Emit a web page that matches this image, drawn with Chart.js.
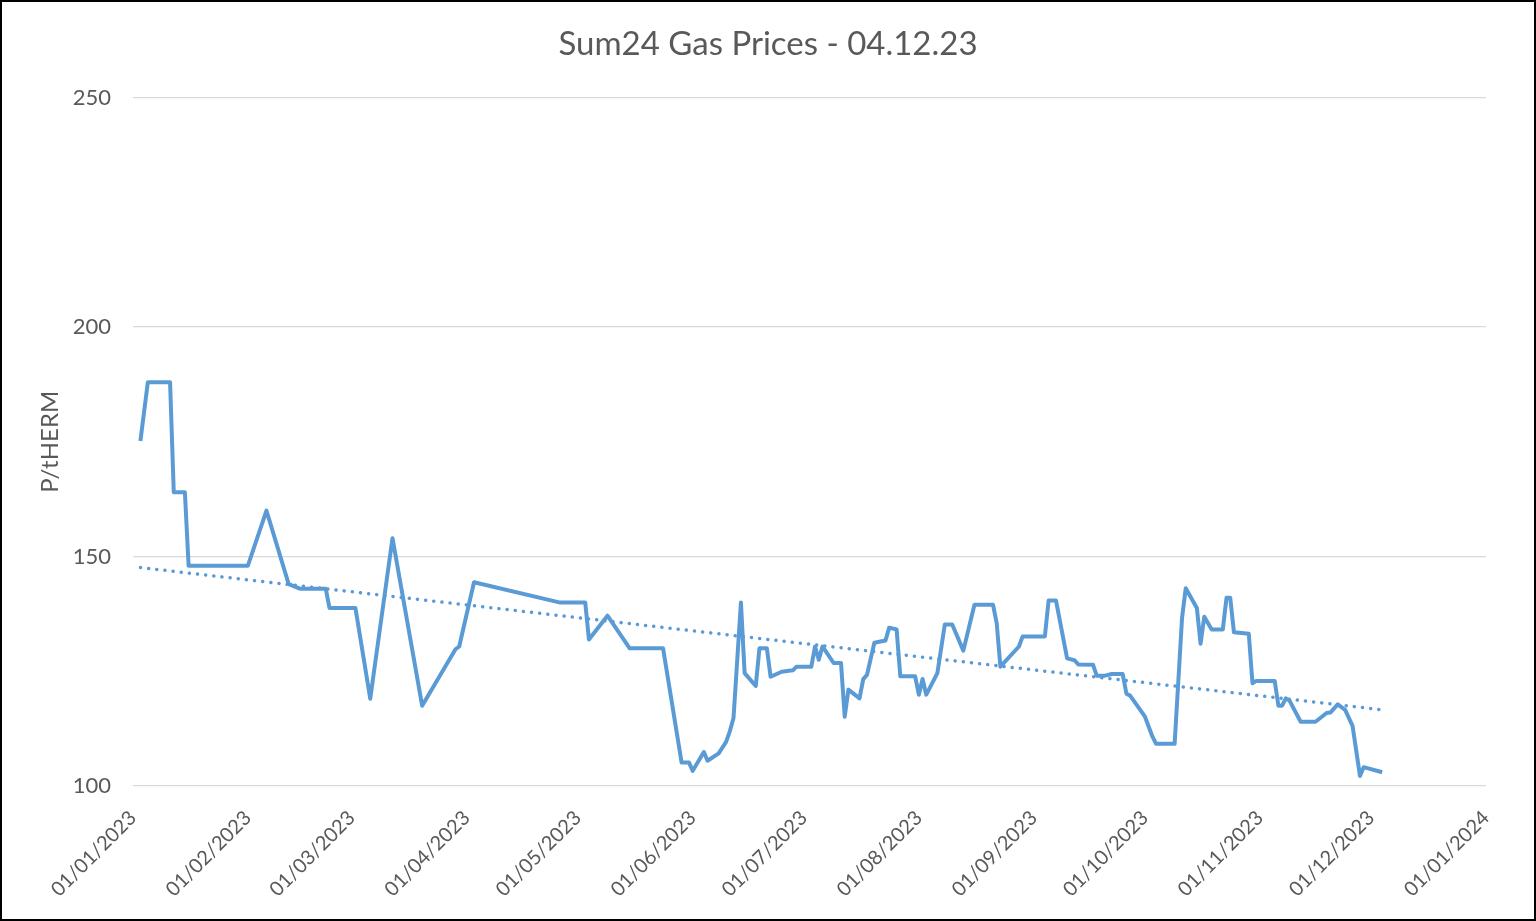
<!DOCTYPE html>
<html>
<head>
<meta charset="utf-8">
<script src="https://cdn.jsdelivr.net/npm/chart.js@4.4.0/dist/chart.umd.min.js"></script>
<style>
  html, body { margin: 0; padding: 0; background: #fff; }
  #wrap { width: 1536px; height: 921px; box-sizing: border-box; border: 2px solid #000; position: relative; }
</style>
</head>
<body>
<div id="wrap"><canvas id="myChart"></canvas></div>
<script>
const dates = [
  '2023-01-03','2023-01-05','2023-01-11','2023-01-12','2023-01-15','2023-01-16','2023-02-01','2023-02-06',
  '2023-02-12','2023-02-15','2023-02-22','2023-02-23','2023-03-02','2023-03-06','2023-03-12','2023-03-20',
  '2023-03-29','2023-03-30','2023-04-03','2023-04-26','2023-05-03','2023-05-04','2023-05-09','2023-05-15',
  '2023-05-24','2023-05-29','2023-05-31','2023-06-01','2023-06-04','2023-06-05','2023-06-08','2023-06-10',
  '2023-06-11','2023-06-12','2023-06-14','2023-06-15','2023-06-18','2023-06-19','2023-06-21','2023-06-22',
  '2023-06-25','2023-06-28','2023-06-29','2023-07-03','2023-07-04','2023-07-05','2023-07-06','2023-07-09',
  '2023-07-11','2023-07-12','2023-07-13','2023-07-16','2023-07-17','2023-07-18','2023-07-20','2023-07-23',
  '2023-07-24','2023-07-26','2023-07-27','2023-07-31','2023-08-01','2023-08-02','2023-08-03','2023-08-06',
  '2023-08-08','2023-08-10','2023-08-13','2023-08-16','2023-08-21','2023-08-22','2023-08-23','2023-08-28',
  '2023-08-29','2023-09-04','2023-09-05','2023-09-07','2023-09-10','2023-09-12','2023-09-13','2023-09-17',
  '2023-09-18','2023-09-20','2023-09-22','2023-09-25','2023-09-26','2023-09-27','2023-10-01','2023-10-03',
  '2023-10-04','2023-10-09','2023-10-11','2023-10-12','2023-10-15','2023-10-16','2023-10-17','2023-10-19',
  '2023-10-22','2023-10-23','2023-10-24','2023-10-25','2023-10-29','2023-10-30','2023-10-31','2023-11-05',
  '2023-11-06','2023-11-07','2023-11-08','2023-11-09','2023-11-12','2023-11-16','2023-11-19','2023-11-20',
  '2023-11-22','2023-11-24','2023-11-26','2023-11-28','2023-11-29','2023-12-04'
];
const prices = [
  175.2, 188.0, 188.0, 164.0, 164.0, 148.0, 148.0, 160.0,
  144.0, 143.0, 143.0, 138.8, 138.8, 119.0, 154.0, 117.5,
  129.8, 130.4, 144.4, 140.0, 140.0, 131.9, 137.1, 130.0,
  130.0, 105.1, 105.1, 103.3, 107.4, 105.5, 107.1, 109.6,
  111.9, 114.8, 140.0, 124.6, 121.8, 130.0, 130.0, 123.8,
  124.9, 125.2, 126.0, 126.0, 130.4, 127.5, 130.4, 126.8,
  126.8, 115.1, 121.0, 119.1, 123.3, 124.2, 131.2, 131.7,
  134.5, 134.1, 123.9, 123.9, 119.9, 123.3, 119.9, 124.6,
  135.2, 135.2, 129.5, 139.5, 139.5, 135.5, 126.0, 130.4,
  132.6, 132.6, 140.4, 140.4, 127.8, 127.4, 126.5, 126.4,
  124.0, 124.0, 124.4, 124.4, 120.1, 119.7, 115.1, 110.8,
  109.2, 109.2, 136.6, 143.1, 138.8, 131.0, 136.9, 134.1,
  134.1, 141.0, 141.0, 133.5, 133.2, 122.4, 122.9, 122.9,
  117.5, 117.5, 119.1, 118.6, 114.0, 114.0, 115.9, 116.0,
  117.8, 116.6, 113.1, 102.2, 104.1, 103.0
];
const trendDates = ['2023-01-03', '2023-12-04'];
const trendPrices = [147.6, 116.6];
const tickLabels = ['01/01/2023','01/02/2023','01/03/2023','01/04/2023','01/05/2023','01/06/2023','01/07/2023',
  '01/08/2023','01/09/2023','01/10/2023','01/11/2023','01/12/2023','01/01/2024'];
const yTicks = [100, 150, 200, 250];

const base = Date.UTC(2023, 0, 1);
const isoDay = s => (Date.UTC(+s.slice(0, 4), +s.slice(5, 7) - 1, +s.slice(8, 10)) - base) / 864e5;
const ukDay = s => {
  const [d, m, y] = s.split('/');
  return (Date.UTC(+y, +m - 1, +d) - base) / 864e5;
};
const tickDays = tickLabels.map(ukDay);

const blue = '#5B9BD5';
const grey = '#595959';
const font = 'Lato';

const ctx = document.getElementById('myChart');
new Chart(ctx, {
  type: 'line',
  data: {
    datasets: [{
      label: 'Sum24',
      data: dates.map((d, i) => ({ x: isoDay(d), y: prices[i] })),
      borderColor: blue,
      borderWidth: 4,
      pointRadius: 0,
      tension: 0,
      borderJoinStyle: 'round'
    }, {
      label: 'Trend',
      data: trendDates.map((d, i) => ({ x: isoDay(d), y: trendPrices[i] })),
      borderColor: blue,
      borderWidth: 3.5,
      borderCapStyle: 'round',
      borderDash: [0.1, 8.1],
      pointRadius: 0
    }]
  },
  options: {
    responsive: true,
    maintainAspectRatio: false,
    animation: false,
    layout: { padding: 0 },
    plugins: {
      legend: { display: false },
      tooltip: { enabled: false },
      title: {
        display: true,
        text: 'Sum24 Gas Prices - 04.12.23',
        color: grey,
        font: { family: font, size: 33, weight: 'normal' },
        padding: { top: 23, bottom: 33 }
      }
    },
    scales: {
      x: {
        type: 'linear',
        min: tickDays[0],
        max: tickDays[tickDays.length - 1],
        afterBuildTicks: (scale) => { scale.ticks = tickDays.map(v => ({ value: v })); },
        afterFit: (scale) => { scale.height = 133; },
        grid: { display: false, drawTicks: false },
        border: { display: false },
        ticks: {
          color: grey,
          font: { family: font, size: 20 },
          minRotation: 45,
          maxRotation: 45,
          padding: 20,
          autoSkip: false,
          callback: (v) => tickLabels[tickDays.indexOf(v)]
        }
      },
      y: {
        min: yTicks[0],
        max: yTicks[yTicks.length - 1],
        afterBuildTicks: (scale) => { scale.ticks = yTicks.map(v => ({ value: v })); },
        afterFit: (scale) => { scale.width = 131; },
        grid: { color: '#d9d9d9', lineWidth: 1.2, drawTicks: false },
        border: { display: false },
        title: {
          display: true,
          text: 'P/tHERM',
          color: grey,
          font: { family: font, size: 24 },
          padding: { top: 34, bottom: 0 }
        },
        ticks: {
          color: grey,
          font: { family: font, size: 22 },
          padding: 22
        }
      },
      // empty right margin so the title stays centred on the whole picture
      yRight: {
        position: 'right',
        afterFit: (scale) => { scale.width = 48; },
        grid: { display: false, drawTicks: false },
        border: { display: false },
        ticks: { display: false }
      }
    }
  }
});
</script>
</body>
</html>
